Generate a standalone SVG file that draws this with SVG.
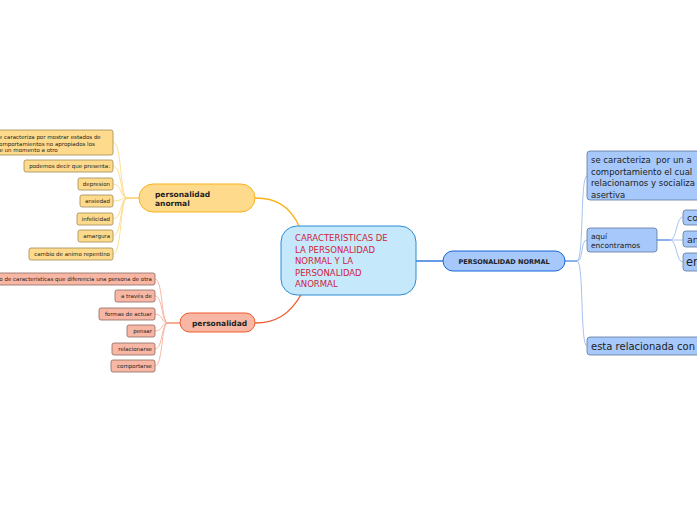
<svg xmlns="http://www.w3.org/2000/svg" width="697" height="520" viewBox="0 0 697 520">
<style>
text{font-family:"DejaVu Sans",Verdana,sans-serif;fill:#222}
.o{fill:#fedb8c;stroke:#a08a55;stroke-width:0.8}
.r{fill:#f8b7a4;stroke:#8a6a60;stroke-width:0.8}
.b{fill:#a6c8fb;stroke:#60769a;stroke-width:0.8}
.s{font-size:5.5px}
.lo{fill:none;stroke:#fbd77a;stroke-width:0.8}
.lr{fill:none;stroke:#f6a68f;stroke-width:0.8}
.lb{fill:none;stroke:#8fb3ea;stroke-width:0.8}
</style>
<rect width="697" height="520" fill="#fff"/>
<g id="connectors">
<path d="M300,228 C290,205 275,198 255,198" fill="none" stroke="#f9b31a" stroke-width="1.3"/>
<path d="M302,293 C290,315 275,323 255,323" fill="none" stroke="#ef5a2a" stroke-width="1.3"/>
<path d="M416,261 L443,261" fill="none" stroke="#1565d8" stroke-width="1.3"/>
<path d="M139,198 L127,198" stroke="#f9b31a" stroke-width="1"/>
<path class="lo" d="M127,198 C120,198 122,142 113,142"/>
<path class="lo" d="M127,198 C120,198 122,166 113,166"/>
<path class="lo" d="M127,198 C120,198 122,184 113,184"/>
<path class="lo" d="M127,198 C120,198 122,201 113,201"/>
<path class="lo" d="M127,198 C120,198 122,219 113,219"/>
<path class="lo" d="M127,198 C120,198 122,236 113,236"/>
<path class="lo" d="M127,198 C120,198 122,254 113,254"/>
<path d="M180,323 L168,323" stroke="#ef5a2a" stroke-width="1"/>
<path class="lr" d="M168,323 C161,323 163,279 155,279"/>
<path class="lr" d="M168,323 C161,323 163,296 155,296"/>
<path class="lr" d="M168,323 C161,323 163,314 155,314"/>
<path class="lr" d="M168,323 C161,323 163,331 155,331"/>
<path class="lr" d="M168,323 C161,323 163,349 155,349"/>
<path class="lr" d="M168,323 C161,323 163,366 155,366"/>
<path d="M565,261 L577,261" stroke="#1565d8" stroke-width="1"/>
<path class="lb" d="M577,261 C584,261 580,176 587,176"/>
<path class="lb" d="M577,261 C584,261 580,240 587,240"/>
<path class="lb" d="M577,261 C584,261 580,346 587,346"/>
<path d="M657,240 L670,240" stroke="#1565d8" stroke-width="1"/>
<path class="lb" d="M670,240 C677,240 676,217 683,217"/>
<path class="lb" d="M670,240 L683,240"/>
<path class="lb" d="M670,240 C677,240 676,262 683,262"/>
</g>
<g id="center"><rect x="281" y="226" width="135" height="69" rx="16" fill="#c5e9fb" stroke="#2b8cd6" stroke-width="1"/>
<text x="295" y="241" style="font-size:8.5px;fill:#d0213b"><tspan x="295">CARACTERISTICAS DE</tspan><tspan x="295" dy="11.6">LA PERSONALIDAD</tspan><tspan x="295" dy="11.6">NORMAL Y LA</tspan><tspan x="295" dy="11.6">PERSONALIDAD</tspan><tspan x="295" dy="11.6">ANORMAL</tspan></text></g>
<g id="anormal"><rect x="139" y="184" width="116" height="28" rx="14" fill="#fedb8c" stroke="#f9b31a"/>
<text x="155" y="197" style="font-size:7.5px;font-weight:bold"><tspan x="155">personalidad</tspan><tspan x="155" dy="9">anormal</tspan></text></g>
<g id="personalidad"><rect x="180" y="313" width="75" height="19" rx="9.5" fill="#f8b7a4" stroke="#ef5a2a"/>
<text x="192" y="326" style="font-size:7.5px;font-weight:bold">personalidad</text></g>
<g id="normal"><rect x="443" y="251" width="122" height="20" rx="10" fill="#a6c8fb" stroke="#1565d8"/>
<text x="504" y="264" text-anchor="middle" style="font-size:6.5px;font-weight:bold">PERSONALIDAD NORMAL</text></g>
<g id="o1"><rect class="o" x="-10" y="130" width="123" height="25" rx="2"/><text class="s" x="-4" y="139"><tspan x="-4">se caracteriza por mostrar estados de</tspan><tspan x="-4" dy="6.5">comportamientos no apropiados los</tspan><tspan x="-4" dy="6.5">de un momento a otro</tspan></text></g>
<g id="o2"><rect class="o" x="24" y="160" width="89" height="12" rx="2"/><text class="s" x="110" y="168" text-anchor="end">podemos decir que presenta:</text></g>
<g id="o3"><rect class="o" x="78" y="178" width="35" height="12" rx="2"/><text class="s" x="110" y="186" text-anchor="end">depresion</text></g>
<g id="o4"><rect class="o" x="80" y="195" width="33" height="12" rx="2"/><text class="s" x="110" y="203" text-anchor="end">ansiedad</text></g>
<g id="o5"><rect class="o" x="77" y="213" width="36" height="12" rx="2"/><text class="s" x="110" y="221" text-anchor="end">infelicidad</text></g>
<g id="o6"><rect class="o" x="78" y="230" width="35" height="12" rx="2"/><text class="s" x="110" y="238" text-anchor="end">amargura</text></g>
<g id="o7"><rect class="o" x="29" y="248" width="84" height="12" rx="2"/><text class="s" x="110" y="256" text-anchor="end">cambio de animo repentino</text></g>
<g id="r1"><rect class="r" x="-10" y="273" width="165" height="12" rx="2"/><text class="s" x="152" y="281" text-anchor="end">conjunto de caracteristicas que diferencia una persona de otra</text></g>
<g id="r2"><rect class="r" x="115" y="290" width="40" height="12" rx="2"/><text class="s" x="152" y="298" text-anchor="end">a través de</text></g>
<g id="r3"><rect class="r" x="99" y="308" width="56" height="12" rx="2"/><text class="s" x="152" y="316" text-anchor="end">formas de actuar</text></g>
<g id="r4"><rect class="r" x="127" y="325" width="28" height="12" rx="2"/><text class="s" x="152" y="333" text-anchor="end">pensar</text></g>
<g id="r5"><rect class="r" x="112" y="343" width="43" height="12" rx="2"/><text class="s" x="152" y="351" text-anchor="end">relacionarse</text></g>
<g id="r6"><rect class="r" x="111" y="360" width="44" height="12" rx="2"/><text class="s" x="152" y="368" text-anchor="end">comportarse</text></g>
<g id="b1"><rect class="b" x="587" y="151" width="125" height="49" rx="3"/><text x="591" y="163" style="font-size:8.5px"><tspan x="591">se caracteriza&#160; por un a</tspan><tspan x="591" dy="11.5">comportamiento el cual</tspan><tspan x="591" dy="11.5">relacionarnos y socializa</tspan><tspan x="591" dy="11.5">asertiva</tspan></text></g>
<g id="b2"><rect class="b" x="587" y="228" width="70" height="24" rx="3"/><text x="591" y="239" style="font-size:7.5px"><tspan x="591">aquí</tspan><tspan x="591" dy="8.5">encontramos</tspan></text></g>
<g id="b3"><rect class="b" x="683" y="210" width="20" height="15" rx="3"/><text x="687" y="221" style="font-size:9.5px">co</text></g>
<g id="b4"><rect class="b" x="683" y="231" width="20" height="16" rx="3"/><text x="687" y="243" style="font-size:9.5px">an</text></g>
<g id="b5"><rect class="b" x="683" y="253" width="20" height="18" rx="3"/><text x="686" y="266" style="font-size:11.5px">en</text></g>
<g id="b6"><rect class="b" x="587" y="337" width="125" height="18" rx="3"/><text x="591" y="350" style="font-size:10px">esta relacionada con</text></g>
</svg>
